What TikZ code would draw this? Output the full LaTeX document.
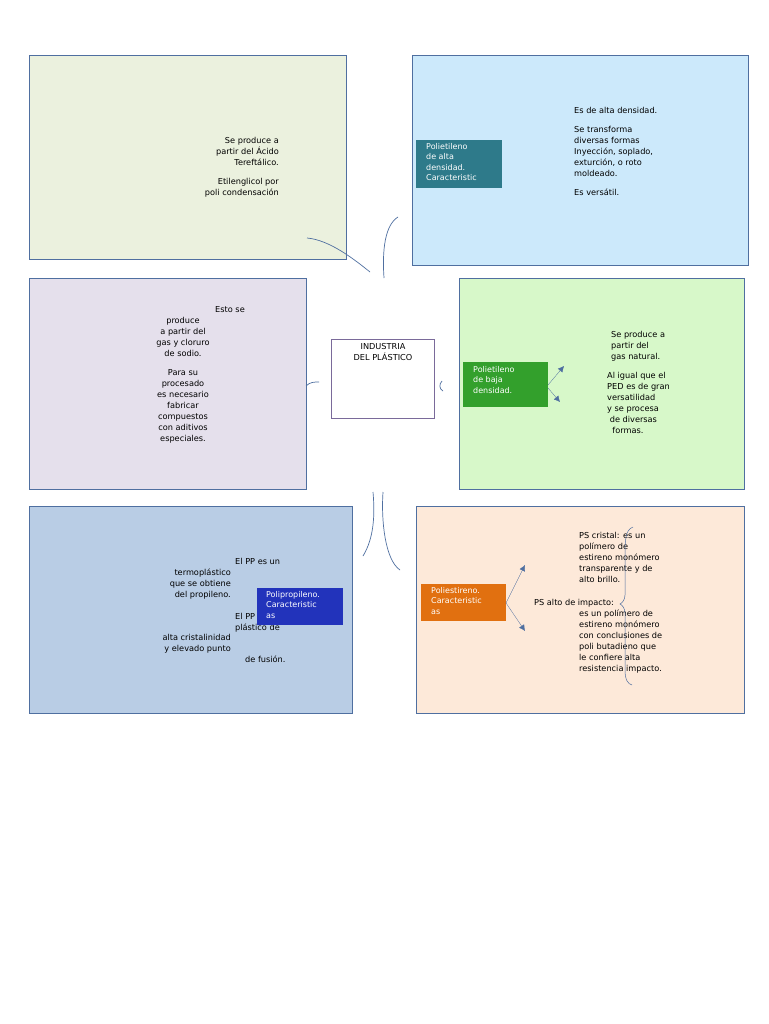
\documentclass[tikz,border=0pt]{standalone}
\usepackage{fontspec}
\setmainfont{DejaVu Sans}
\usetikzlibrary{arrows.meta}
\begin{document}
\begin{tikzpicture}[x=1pt,y=-1pt,
 panel/.style={draw={rgb,255:red,79;green,111;blue,160},line width=0.7pt},
 txt/.style={font=\fontsize{8.2}{11}\selectfont,text=black,inner sep=0pt},
 inbox/.style={text=white,font=\fontsize{8}{10.5}\selectfont,align=left,anchor=north west,inner sep=0pt},
 conn/.style={draw={rgb,255:red,79;green,111;blue,160},line width=0.7pt},
 arr/.style={draw={rgb,255:red,79;green,111;blue,160},line width=0.3pt,-{Latex[length=6pt,width=6pt]}}]
\useasboundingbox (0,0) rectangle (768,1024);
\fill[white] (0,0) rectangle (768,1024);
\definecolor{c1}{HTML}{EBF1DE}\definecolor{c2}{HTML}{CCE9FB}\definecolor{c3}{HTML}{E5E0EC}
\definecolor{c4}{HTML}{D7F8C9}\definecolor{c5}{HTML}{B9CDE5}\definecolor{c6}{HTML}{FDE9D9}
\path[panel,fill=c1] (29,55) rectangle (346,259);
\path[panel,fill=c2] (412,55) rectangle (748,265);
\path[panel,fill=c3] (29,278) rectangle (306,489);
\path[panel,fill=c4] (459,278) rectangle (744,489);
\path[panel,fill=c5] (29,506) rectangle (352,713);
\path[panel,fill=c6] (416,506) rectangle (744,713);
\node[draw={rgb,255:red,122;green,106;blue,154},line width=0.7pt,minimum width=103pt,minimum height=79pt,anchor=north west] (c) at (331,339) {};
\node[txt,align=center,anchor=north] (ct) at (383,343) {INDUSTRIA\\DEL PLÁSTICO};
% connectors
\draw[conn] (307,238) .. controls (330,240) and (355,260) .. (370,272);
\draw[conn] (384,278) .. controls (382,250) and (385,225) .. (398,217);
\draw[conn] (306,386) .. controls (310,382) and (314,382) .. (319,382);
\draw[conn] (442,381) .. controls (439,384) and (439,389) .. (443,391);
\draw[conn] (373,492) .. controls (375,515) and (374,538) .. (363,556);
\draw[conn] (383,492) .. controls (381,520) and (385,560) .. (400,570);
% text panel 1
\node[txt,align=right,anchor=north east] at (279,137) {Se produce a\\partir del Ácido\\Tereftálico.\\[8pt]Etilenglicol por\\poli condensación};
% panel 2
\fill[fill={rgb,255:red,46;green,122;blue,138}] (416,140) rectangle (502,188);
\node[inbox] (pe) at (426,143) {Polietileno\\de alta\\densidad.\\Caracteristic};
\node[txt,align=left,anchor=north west] at (574,107) {Es de alta densidad.\\[8pt]Se transforma\\diversas formas\\Inyección, soplado,\\exturción, o roto\\moldeado.\\[8pt]Es versátil.};
% panel 3
\node[txt,align=right,anchor=north east] at (245,306) {Esto se};
\node[txt,align=center,anchor=north] at (183,317) {produce\\a partir del\\gas y cloruro\\de sodio.\\[8pt]Para su\\procesado\\es necesario\\fabricar\\compuestos\\con aditivos\\especiales.};
% panel 4
\fill[fill={rgb,255:red,51;green,160;blue,44}] (463,362) rectangle (548,407);
\node[inbox] (pb) at (473,366) {Polietileno\\de baja\\densidad.};
\draw[arr] (548,385) -- (564,366);
\draw[arr] (548,388) -- (560,402);
\node[txt,align=left,anchor=north west] at (607,331) {\ \,Se produce a\\\ \,partir del\\\ \,gas natural.\\[8pt]Al igual que el\\PED es de gran\\versatilidad\\y se procesa\\\ de diversas\\\ \ formas.};
% panel 5
\node[txt,align=right,anchor=north east] at (231,569) {termoplástico\\que se obtiene\\del propileno.};
\node[txt,anchor=north west] at (235,558) {El PP es un};
\node[txt,align=left,anchor=north west] at (235,613) {El PP es un\\plástico de};
\node[txt,align=right,anchor=north east] at (231,634) {alta cristalinidad\\y elevado punto};
\node[txt,anchor=north west] at (245,656) {de fusión.};
\fill[fill={rgb,255:red,34;green,51;blue,187}] (257,588) rectangle (343,625);
\node[inbox] (pp) at (266,591) {Polipropileno.\\Caracteristic\\as};
% panel 6
\fill[fill={rgb,255:red,225;green,112;blue,16}] (421,584) rectangle (506,621);
\node[inbox] (ps) at (431,587) {Poliestireno.\\Caracteristic\\as};
\draw[arr] (506,603) -- (525,565);
\draw[arr] (506,603) -- (525,631);
\node[txt,align=left,anchor=north west] at (579,532) {PS cristal: es un\\polímero de\\estireno monómero\\transparente y de\\alto brillo.};
\node[txt,anchor=north west] at (534,599) {PS alto de impacto:};
\node[txt,align=left,anchor=north west] at (579,610) {es un polímero de\\estireno monómero\\con conclusiones de\\poli butadieno que\\le confiere alta\\resistencia impacto.};
\draw[conn,line width=0.5pt] (633,527) .. controls (625,530) and (625,540) .. (625,560) -- (625,595) .. controls (625,600) and (622,603) .. (620,604) .. controls (622,605) and (625,608) .. (625,613) -- (625,670) .. controls (625,680) and (628,684) .. (632,685);
\end{tikzpicture}
\end{document}
